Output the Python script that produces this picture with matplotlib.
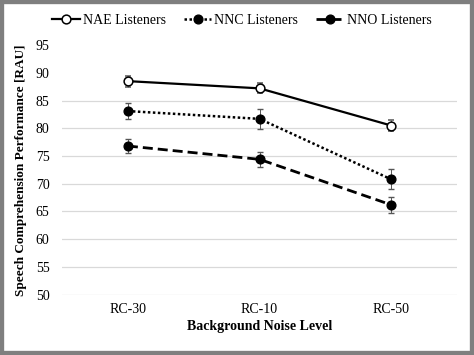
import matplotlib.pyplot as plt
from matplotlib.patches import Rectangle
from matplotlib.lines import Line2D

plt.rcParams['font.family'] = ['Liberation Serif', 'DejaVu Serif']

levels = ['RC-30', 'RC-10', 'RC-50']
nae = [88.5, 87.2, 80.5]
nae_err = [1.0, 0.9, 1.0]
nnc = [83.1, 81.7, 70.8]
nnc_err = [1.5, 1.8, 1.8]
nno = [76.8, 74.4, 66.2]
nno_err = [1.3, 1.3, 1.4]
yticks = [50, 55, 60, 65, 70, 75, 80, 85, 90, 95]

fig = plt.figure(figsize=(4.74, 3.55), dpi=100)
ax = fig.add_axes([0.131, 0.170, 0.833, 0.703])

x = range(len(levels))
eb = dict(ecolor='#555555', elinewidth=0.7, capsize=2.5, capthick=0.7)
styles = [
    dict(ls='-', lw=1.6, mfc='white', mew=1.1),
    dict(ls=(0, (1, 1)), lw=1.8, mfc='black', mew=1.0),
    dict(ls=(0, (3.6, 1.8)), lw=2.0, mfc='black', mew=1.0),
]
names = ['NAE Listeners', 'NNC Listeners', 'NNO Listeners']
handles = []
for vals, errs, st, name in zip([nae, nnc, nno], [nae_err, nnc_err, nno_err], styles, names):
    ax.errorbar(x, vals, yerr=errs, color='black', marker='o', ms=6.3, mec='black',
                zorder=3, **st, **eb)
    handles.append(Line2D([], [], color='black', marker='o', ms=6.3, mec='black', **st))

ax.set_xlim(-0.5, len(levels) - 0.5)
ax.set_ylim(50, 95)
ax.set_yticks(yticks)
ax.set_xticks(list(x))
ax.set_xticklabels(levels)
ax.tick_params(length=0, labelsize=10, pad=6)
ax.tick_params(axis='y', pad=9)
for s in ax.spines.values():
    s.set_visible(False)
ax.yaxis.grid(True, color='#d9d9d9', lw=0.9)
for t, gl in zip(yticks, ax.get_ygridlines()):
    if t > 85:
        gl.set_visible(False)
ax.set_axisbelow(True)

ax.set_xlabel('Background Noise Level', fontsize=10, fontweight='bold', labelpad=3)
ax.set_ylabel('Speech Comprehension Performance [RAU]', fontsize=9.5,
              fontweight='bold', labelpad=6)

fig.legend(handles, names, loc='center', bbox_to_anchor=(0.51, 0.943), ncol=3,
           frameon=False, fontsize=10, handlelength=2.0, handletextpad=0.2,
           columnspacing=1.3)

fig.patches.append(Rectangle((0, 0), 1, 1, transform=fig.transFigure, fill=False,
                             edgecolor='#7f7f7f', lw=6))

fig.savefig('out.png', dpi=100)
